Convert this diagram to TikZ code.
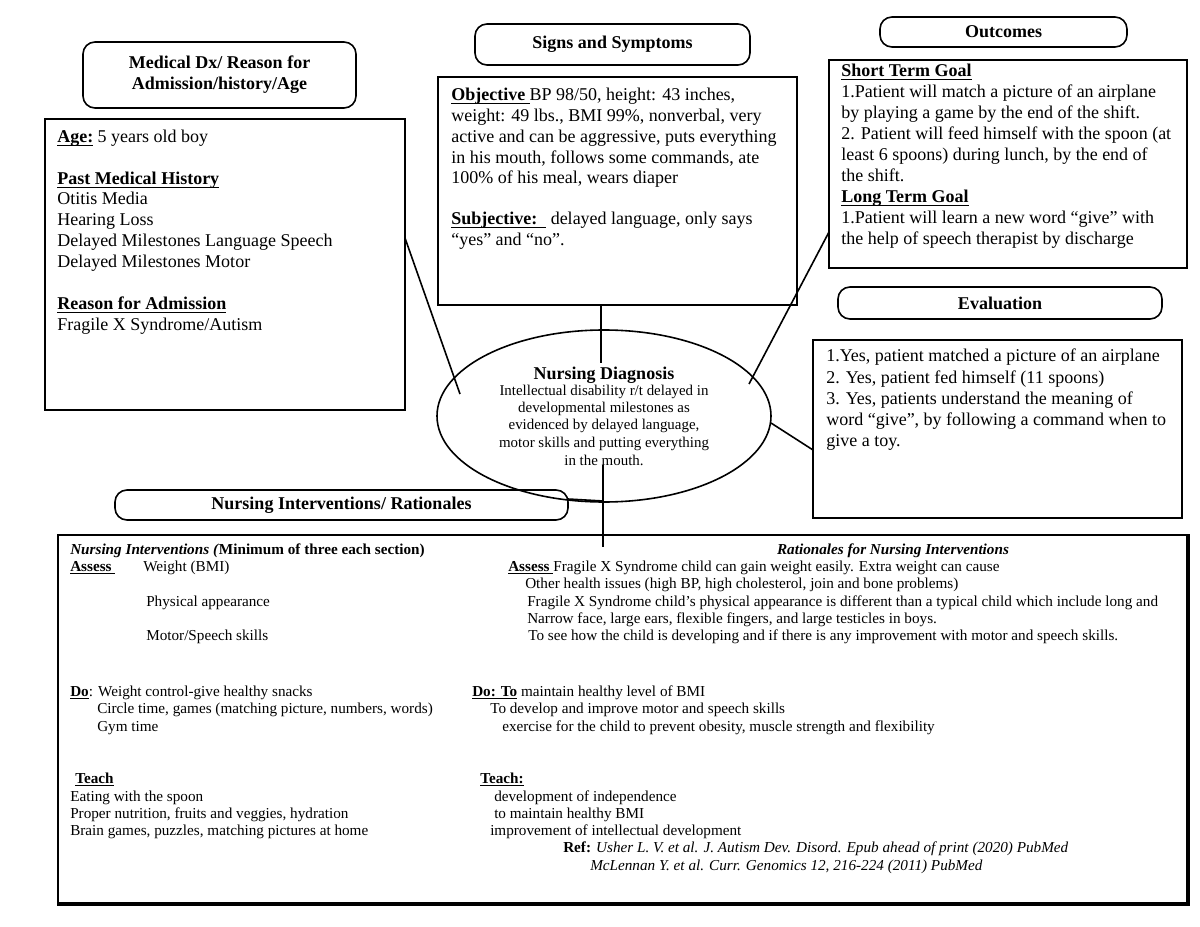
\documentclass[tikz,border=0pt]{standalone}
\usepackage{fontspec}
\usetikzlibrary{shapes.geometric}
\setmainfont{Liberation Serif}
\newcommand\fA{\fontsize{13.5}{15.75}\selectfont}
\newcommand\fB{\fontsize{11.2}{13}\selectfont}
\newcommand\fN{\fontsize{11.4}{13}\selectfont}
\newcommand\ubf[1]{\textbf{\setbox0\hbox{#1}\rlap{\rule[-1.8pt]{\wd0}{0.6pt}}\box0}}
\tikzset{
  hdr/.style={draw, line width=1.2pt, rounded corners=9pt, font=\fA\bfseries, align=center, inner sep=0pt},
  box/.style={draw, line width=1.2pt, inner sep=0pt},
  txt/.style={inner sep=0pt, anchor=base west, font=\fA},
  ntxt/.style={inner sep=0pt, anchor=base west, font=\fN},
  link/.style={line width=1.2pt}
}
\begin{document}
\begin{tikzpicture}[x=0.75pt,y=-0.75pt]
\useasboundingbox (0,0) rectangle (1200,927);
% header boxes
\node[hdr, minimum width=204.75pt, minimum height=49.5pt] (medhdr) at (219.5,75) {Medical Dx/ Reason for\\Admission/history/Age};
\node[hdr, minimum width=206.25pt, minimum height=30.75pt] (sighdr) at (612.5,44.5) {Signs and Symptoms};
\node[hdr, minimum width=185.25pt, minimum height=22.5pt] (outhdr) at (1003.5,32) {Outcomes};
\node[hdr, minimum width=243pt, minimum height=24pt] (evalhdr) at (1000,303) {Evaluation};
\node[hdr, minimum width=339.75pt, minimum height=22.5pt] (nihdr) at (341.5,505) {Nursing Interventions/ Rationales};
% content boxes
\node[box, minimum width=270pt, minimum height=218.25pt] (medbox) at (225,264.5) {};
\node[box, minimum width=269.25pt, minimum height=171pt] (sigbox) at (617.5,191) {};
\node[box, minimum width=268.5pt, minimum height=156pt] (outbox) at (1008,164) {};
\node[box, minimum width=276.75pt, minimum height=133.5pt] (evalbox) at (997.5,429) {};
\node[box, minimum width=846.75pt, minimum height=276pt] (bigbox) at (622.5,719) {};
\draw[line width=1.6pt] ([xshift=0.9pt]bigbox.north east) -- ([shift={(0.9pt,-0.9pt)}]bigbox.south east) -- ([yshift=-0.9pt]bigbox.south west);
\node[draw, ellipse, line width=1.2pt, minimum width=250.5pt, minimum height=129pt, inner sep=0pt] (dx) at (604,416) {};
% connectors
\coordinate (p1) at (405,238); \coordinate (q1) at (460,394);
\coordinate (p2) at (601,305); \coordinate (q2) at (601,363);
\coordinate (p3) at (829,232); \coordinate (q3) at (749,384);
\coordinate (p4) at (771,423); \coordinate (q4) at (813,450);
\coordinate (p5) at (603,465); \coordinate (q5) at (603,547);
\coordinate (p6) at (568,499); \coordinate (q6) at (603,501);
\draw[link] (p1) -- (q1);
\draw[link] (p2) -- (q2);
\draw[link] (p3) -- (q3);
\draw[link] (p4) -- (q4);
\draw[link] (p5) -- (q5);
\draw[link] (p6) -- (q6);
% medical box text
\node[txt] (m1) at (57,143) {\ubf{Age:} 5 years old boy};
\node[txt] (m2) at (57,185) {\ubf{Past Medical History}};
\node[txt] (m3) at (57,205) {Otitis Media};
\node[txt] (m4) at (57,226) {Hearing Loss};
\node[txt] (m5) at (57,247) {Delayed Milestones Language Speech};
\node[txt] (m6) at (57,268) {Delayed Milestones Motor};
\node[txt] (m7) at (57,310) {\ubf{Reason for Admission}};
\node[txt] (m8) at (57,331) {Fragile X Syndrome/Autism};
% signs box text
\node[txt] (s1) at (451,101) {\ubf{Objective }BP 98/50, height: 43 inches,};
\node[txt] (s2) at (451,122) {weight: 49 lbs., BMI 99\%, nonverbal, very};
\node[txt] (s3) at (451,143) {active and can be aggressive, puts everything};
\node[txt] (s4) at (451,164) {in his mouth, follows some commands, ate};
\node[txt] (s5) at (451,184) {100\% of his meal, wears diaper};
\node[txt] (s6) at (451,225) {\ubf{Subjective:\ \ } delayed language, only says};
\node[txt] (s7) at (451,246) {“yes” and “no”.};
% outcomes box text
\node[txt] (o1) at (841,77) {\ubf{Short Term Goal}};
\node[txt] (o2) at (841,98) {1.Patient will match a picture of an airplane};
\node[txt] (o3) at (841,119) {by playing a game by the end of the shift.};
\node[txt] (o4) at (841,140) {2. Patient will feed himself with the spoon (at};
\node[txt] (o5) at (841,161) {least 6 spoons) during lunch, by the end of};
\node[txt] (o6) at (841,182) {the shift.};
\node[txt] (o7) at (841,203) {\ubf{Long Term Goal}};
\node[txt] (o8) at (841,224) {1.Patient will learn a new word “give” with};
\node[txt] (o9) at (841,245) {the help of speech therapist by discharge};
% evaluation box text
\node[txt] (e1) at (826,362) {1.Yes, patient matched a picture of an airplane};
\node[txt] (e2) at (826,383) {2. Yes, patient fed himself (11 spoons)};
\node[txt] (e3) at (826,404) {3. Yes, patients understand the meaning of};
\node[txt] (e4) at (826,425) {word “give”, by following a command when to};
\node[txt] (e5) at (826,446) {give a toy.};
% ellipse text
\node[inner sep=0pt, anchor=base, font=\fA\bfseries] (d0) at (604,379) {Nursing Diagnosis};
\node[inner sep=0pt, anchor=base, font=\fB] (d1) at (604,395) {Intellectual disability r/t delayed in};
\node[inner sep=0pt, anchor=base, font=\fB] (d2) at (604,412) {developmental milestones as};
\node[inner sep=0pt, anchor=base, font=\fB] (d3) at (604,429) {evidenced by delayed language,};
\node[inner sep=0pt, anchor=base, font=\fB] (d4) at (604,447) {motor skills and putting everything};
\node[inner sep=0pt, anchor=base, font=\fB] (d5) at (604,465) {in the mouth.};
% bottom box, left column
\node[ntxt] (b1) at (70,554) {\textbf{\textit{Nursing Interventions (}Minimum of three each section)}};
\node[ntxt] (b2) at (70,571) {\ubf{Assess }};
\node[ntxt] (b3) at (143,571) {Weight (BMI)};
\node[ntxt] (b4) at (146,606) {Physical appearance};
\node[ntxt] (b5) at (146,640) {Motor/Speech skills};
\node[ntxt] (b6) at (70,696) {\ubf{Do}: Weight control-give healthy snacks};
\node[ntxt] (b7) at (97,713) {Circle time, games (matching picture, numbers, words)};
\node[ntxt] (b8) at (97,731) {Gym time};
\node[ntxt] (b9) at (75,783) {\ubf{Teach}};
\node[ntxt] (b10) at (70,801) {Eating with the spoon};
\node[ntxt] (b11) at (70,818) {Proper nutrition, fruits and veggies, hydration};
\node[ntxt] (b12) at (70,835) {Brain games, puzzles, matching pictures at home};
% bottom box, right column
\node[inner sep=0pt, anchor=base, font=\fN] (r0) at (893,554) {\textbf{\textit{Rationales for Nursing Interventions}}};
\node[ntxt] (r1) at (508,571) {\ubf{Assess }Fragile X Syndrome child can gain weight easily. Extra weight can cause};
\node[ntxt] (r2) at (525,588) {Other health issues (high BP, high cholesterol, join and bone problems)};
\node[ntxt] (r3) at (527,606) {Fragile X Syndrome child’s physical appearance is different than a typical child which include long and};
\node[ntxt] (r4) at (527,623) {Narrow face, large ears, flexible fingers, and large testicles in boys.};
\node[ntxt] (r5) at (528,640) {To see how the child is developing and if there is any improvement with motor and speech skills.};
\node[ntxt] (r6) at (472,696) {\ubf{Do: To} maintain healthy level of BMI};
\node[ntxt] (r7) at (490,713) {To develop and improve motor and speech skills};
\node[ntxt] (r8) at (502,731) {exercise for the child to prevent obesity, muscle strength and flexibility};
\node[ntxt] (r9) at (480,783) {\ubf{Teach:}};
\node[ntxt] (r10) at (494,801) {development of independence};
\node[ntxt] (r11) at (494,818) {to maintain healthy BMI};
\node[ntxt] (r12) at (490,835) {improvement of intellectual development};
\node[ntxt] (r13) at (563,852) {\textbf{Ref:} \textit{Usher L. V. et al. J. Autism Dev. Disord. Epub ahead of print (2020) PubMed}};
\node[ntxt] (r14) at (590,870) {\textit{McLennan Y. et al. Curr. Genomics 12, 216-224 (2011) PubMed}};
\end{tikzpicture}
\end{document}
